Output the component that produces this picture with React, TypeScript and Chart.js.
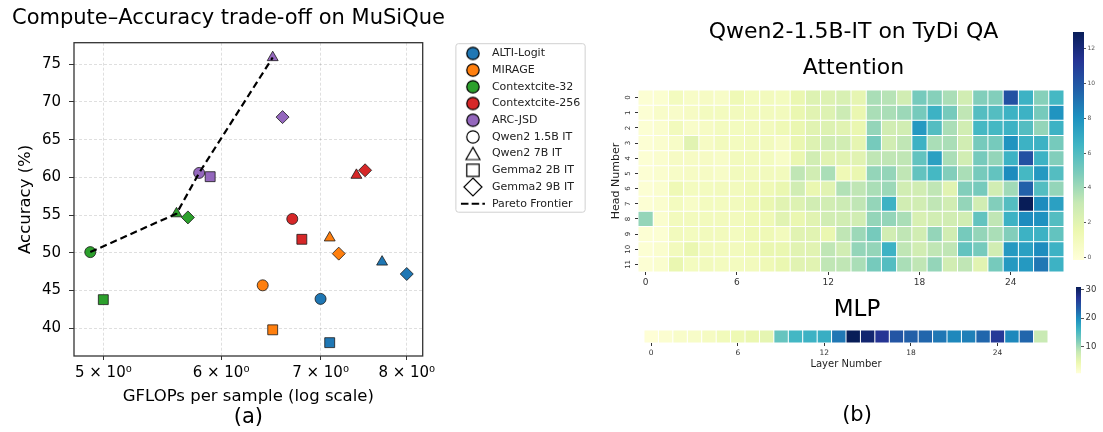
import React, { useEffect, useRef } from 'react';
import { Chart, registerables } from 'chart.js';

Chart.register(...registerables);
Chart.defaults.font.family = "'DejaVu Sans', sans-serif";
Chart.defaults.color = '#000';

// ---------------- (a) Compute–Accuracy scatter ----------------
const METHODS = ['ALTI-Logit', 'MIRAGE', 'Contextcite-32', 'Contextcite-256', 'ARC-JSD'];
const METHOD_COLORS = ['#1f77b4', '#ff7f0e', '#2ca02c', '#d62728', '#9467bd'];
const MODELS = ['Qwen2 1.5B IT', 'Qwen2 7B IT', 'Gemma2 2B IT', 'Gemma2 9B IT'];
const MODEL_POINT_STYLES = ['circle', 'triangle', 'rect', 'rectRot'];
const MODEL_MARKER_KINDS = ['circle', 'triangle', 'rect', 'diamond'];

// values in MODELS order
const ALTI_GFLOPS = [7.0, 7.7, 7.1, 8.0];
const ALTI_ACC = [43.9, 48.8, 38.1, 47.2];
const MIRAGE_GFLOPS = [6.4, 7.1, 6.5, 7.2];
const MIRAGE_ACC = [45.7, 52.0, 39.8, 49.9];
const CC32_GFLOPS = [4.9, 5.6, 5.0, 5.7];
const CC32_ACC = [50.1, 55.2, 43.8, 54.7];
const CC256_GFLOPS = [6.7, 7.4, 6.8, 7.5];
const CC256_ACC = [54.5, 60.3, 51.8, 60.95];
const ARC_GFLOPS = [5.8, 6.5, 5.9, 6.6];
const ARC_ACC = [60.6, 75.9, 60.1, 68.0];

const METHOD_GFLOPS = [ALTI_GFLOPS, MIRAGE_GFLOPS, CC32_GFLOPS, CC256_GFLOPS, ARC_GFLOPS];
const METHOD_ACC = [ALTI_ACC, MIRAGE_ACC, CC32_ACC, CC256_ACC, ARC_ACC];

const PARETO_GFLOPS = [4.9, 5.6, 5.8, 6.5];
const PARETO_ACC = [50.1, 55.2, 60.6, 75.9];

const X_TICKS = [5, 6, 7, 8];
const Y_TICKS = [40, 45, 50, 55, 60, 65, 70, 75];

// ---------------- (b) Heatmaps ----------------
const LAYERS = Array.from({ length: 28 }, (_, i) => String(i));
const LAYER_TICKS = [0, 6, 12, 18, 24];

const ATT_HEAD_0 = [0.1, 0.2, 0.9, 0.6, 0.7, 0.6, 1.3, 0.9, 1.0, 0.9, 1.6, 2.2, 2.2, 2.4, 1.8, 3.8, 3.5, 2.7, 5.0, 4.6, 3.8, 2.7, 4.7, 4.7, 10.2, 6.6, 4.6, 6.3];
const ATT_HEAD_1 = [0.1, 0.5, 0.5, 0.7, 0.9, 0.9, 1.0, 1.0, 1.0, 1.0, 1.6, 2.0, 2.2, 2.9, 1.6, 3.8, 3.8, 4.1, 5.0, 6.6, 5.0, 3.3, 5.9, 5.9, 6.6, 6.6, 5.0, 7.9];
const ATT_HEAD_2 = [0.1, 0.3, 1.0, 0.5, 0.7, 0.9, 0.9, 1.0, 1.0, 1.3, 1.6, 2.0, 2.2, 2.0, 1.6, 4.3, 2.7, 2.7, 7.7, 5.9, 3.8, 2.7, 6.3, 6.3, 6.6, 5.9, 4.3, 6.6];
const ATT_HEAD_3 = [0.1, 0.3, 0.6, 2.0, 0.7, 1.0, 0.9, 1.0, 1.0, 0.7, 1.6, 2.2, 2.7, 2.7, 1.8, 5.0, 2.7, 3.3, 6.6, 3.8, 3.8, 2.7, 5.0, 5.0, 7.9, 6.6, 6.6, 5.0];
const ATT_HEAD_4 = [0.1, 0.3, 0.7, 0.7, 0.7, 0.6, 1.0, 1.0, 0.9, 0.6, 1.6, 2.7, 2.0, 2.0, 2.0, 3.3, 3.3, 3.3, 5.5, 7.4, 3.8, 2.7, 5.0, 4.3, 6.6, 10.2, 6.6, 4.7];
const ATT_HEAD_5 = [0.1, 0.3, 0.6, 0.7, 0.7, 0.6, 1.0, 1.0, 1.0, 1.0, 3.3, 2.7, 3.8, 1.3, 1.6, 4.3, 4.3, 3.3, 5.5, 6.3, 4.7, 3.8, 5.0, 5.5, 8.2, 6.3, 7.7, 5.9];
const ATT_HEAD_6 = [0.1, 0.3, 1.3, 0.9, 0.9, 1.0, 1.0, 1.3, 1.3, 1.6, 2.7, 1.6, 2.0, 3.6, 3.3, 3.8, 4.1, 2.7, 2.7, 3.3, 2.0, 4.7, 5.0, 2.7, 4.0, 9.6, 5.9, 4.3];
const ATT_HEAD_7 = [0.1, 0.3, 0.9, 0.6, 0.9, 0.9, 1.0, 1.3, 1.6, 2.0, 2.2, 2.7, 2.7, 2.9, 3.3, 4.3, 6.6, 2.7, 2.7, 3.3, 2.7, 4.3, 2.7, 4.7, 5.9, 13.0, 8.2, 7.4];
const ATT_HEAD_8 = [4.3, 0.3, 1.0, 1.0, 1.0, 1.0, 1.0, 1.3, 1.3, 2.0, 1.6, 2.0, 2.7, 2.7, 2.7, 4.3, 4.3, 3.8, 2.4, 2.7, 2.7, 2.7, 5.5, 3.3, 6.6, 8.2, 8.0, 5.9];
const ATT_HEAD_9 = [0.1, 0.1, 1.0, 0.9, 1.0, 1.0, 0.9, 1.3, 1.3, 1.0, 2.0, 2.0, 1.6, 3.3, 4.1, 5.0, 2.7, 3.3, 2.7, 4.3, 2.7, 5.0, 4.3, 3.8, 4.7, 6.6, 6.6, 5.5];
const ATT_HEAD_10 = [0.1, 0.3, 1.0, 1.6, 1.0, 1.0, 1.0, 1.3, 1.6, 1.6, 2.0, 2.0, 3.3, 2.7, 4.3, 4.3, 6.6, 3.3, 2.7, 3.3, 3.3, 5.5, 5.0, 2.7, 7.7, 7.4, 8.2, 6.6];
const ATT_HEAD_11 = [0.1, 0.3, 1.6, 0.9, 1.0, 0.9, 0.9, 1.0, 1.3, 1.6, 2.0, 2.0, 3.3, 3.3, 3.8, 5.0, 5.9, 3.8, 3.3, 4.3, 2.7, 3.3, 2.0, 5.0, 7.7, 7.7, 8.9, 6.6];
const ATTENTION = [ATT_HEAD_0, ATT_HEAD_1, ATT_HEAD_2, ATT_HEAD_3, ATT_HEAD_4, ATT_HEAD_5, ATT_HEAD_6, ATT_HEAD_7, ATT_HEAD_8, ATT_HEAD_9, ATT_HEAD_10, ATT_HEAD_11];

const MLP = [0.8, 1.4, 2.0, 2.1, 2.7, 3.4, 4.0, 4.5, 5.1, 13.5, 15.6, 16.2, 16.6, 21.5, 31.0, 29.5, 27.2, 24.2, 23.3, 22.8, 21.5, 20.2, 20.8, 22.8, 26.7, 20.2, 22.8, 7.9];

const ATT_VMIN = -0.15;
const ATT_VMAX = 12.97;
const ATT_CBAR_TICKS = [0, 2, 4, 6, 8, 10, 12];
const MLP_VMIN = 0.5;
const MLP_VMAX = 31;
const MLP_CBAR_TICKS = [10, 20, 30];

const YLGNBU = ['#ffffd9', '#edf8b1', '#c7e9b4', '#7fcdbb', '#41b6c4', '#1d91c0', '#225ea8', '#253494', '#081d58'];

function hexRgb(h: string) {
  return [parseInt(h.slice(1, 3), 16), parseInt(h.slice(3, 5), 16), parseInt(h.slice(5, 7), 16)];
}
function cmap(v: number, vmin: number, vmax: number) {
  let t = (v - vmin) / (vmax - vmin);
  t = Math.max(0, Math.min(1, t));
  const p = t * 8;
  const i = Math.min(7, Math.floor(p));
  const f = p - i;
  const a = hexRgb(YLGNBU[i]);
  const b = hexRgb(YLGNBU[i + 1]);
  const c = a.map((x, k) => Math.round(x + (b[k] - x) * f));
  return `rgb(${c[0]},${c[1]},${c[2]})`;
}

function makeMarker(kind: string, fill: string) {
  const c = document.createElement('canvas');
  if (kind === 'dash') {
    c.width = 26;
    c.height = 6;
    const g2 = c.getContext('2d') as CanvasRenderingContext2D;
    g2.strokeStyle = '#000';
    g2.lineWidth = 2;
    g2.setLineDash([7.5, 3.2]);
    g2.beginPath();
    g2.moveTo(1, 3);
    g2.lineTo(25, 3);
    g2.stroke();
    return c;
  }
  c.width = 22;
  c.height = 22;
  const h = c.getContext('2d') as CanvasRenderingContext2D;
  const cx = 11, cy = 11;
  h.fillStyle = fill;
  h.strokeStyle = '#000';
  h.lineWidth = 1.2;
  h.beginPath();
  if (kind === 'circle') h.arc(cx, cy, 6.2, 0, Math.PI * 2);
  else if (kind === 'triangle') {
    h.moveTo(cx, cy - 6.4);
    h.lineTo(cx + 7, cy + 6);
    h.lineTo(cx - 7, cy + 6);
    h.closePath();
  } else if (kind === 'rect') h.rect(cx - 6.2, cy - 6.2, 12.4, 12.4);
  else {
    h.moveTo(cx, cy - 9);
    h.lineTo(cx + 9, cy);
    h.lineTo(cx, cy + 9);
    h.lineTo(cx - 9, cy);
    h.closePath();
  }
  h.fill();
  h.stroke();
  return c;
}

const scatterFrame = {
  id: 'scatterFrame',
  afterLayout(chart: any) {
    const lg = chart.legend;
    if (!lg) return;
    const a = chart.chartArea;
    lg.left = a.right + 31;
    lg.top = a.top - 0.5;
    lg.right = chart.width - 2;
    lg.bottom = a.top + 220;
    lg.width = lg.right - lg.left;
    lg.height = lg.bottom - lg.top;
  },
  afterDraw(chart: any) {
    const { ctx, chartArea: a } = chart;
    ctx.save();
    ctx.strokeStyle = '#333';
    ctx.lineWidth = 1.3;
    ctx.strokeRect(a.left, a.top, a.right - a.left, a.bottom - a.top);
    const lg = chart.legend;
    if (lg && lg.legendHitBoxes && lg.legendHitBoxes.length) {
      const hb = lg.legendHitBoxes;
      const left = lg.left + 2.2;
      const top = lg.top + 1.5;
      let right = 0;
      hb.forEach((b: any) => { right = Math.max(right, b.left + b.width); });
      const last = hb[hb.length - 1];
      const bottom = last.top + last.height + 3;
      right += 5;
      ctx.strokeStyle = '#d0d0d0';
      ctx.lineWidth = 1;
      const r = 2.5;
      ctx.beginPath();
      ctx.moveTo(left + r, top);
      ctx.lineTo(right - r, top);
      ctx.arcTo(right, top, right, top + r, r);
      ctx.lineTo(right, bottom - r);
      ctx.arcTo(right, bottom, right - r, bottom, r);
      ctx.lineTo(left + r, bottom);
      ctx.arcTo(left, bottom, left, bottom - r, r);
      ctx.lineTo(left, top + r);
      ctx.arcTo(left, top, left + r, top, r);
      ctx.stroke();
    }
    ctx.restore();
  },
};

function scatterConfig(): any {
  const legendItems = [
    ...METHODS.map((m, k) => ({
      text: m, pointStyle: makeMarker('circle', METHOD_COLORS[k]), fillStyle: METHOD_COLORS[k],
      strokeStyle: '#000', lineWidth: 0, hidden: false, fontColor: '#222', textAlign: 'left',
    })),
    ...MODELS.map((m, k) => ({
      text: m, pointStyle: makeMarker(MODEL_MARKER_KINDS[k], '#ffffff'), fillStyle: '#fff',
      strokeStyle: '#000', lineWidth: 0, hidden: false, fontColor: '#222', textAlign: 'left',
    })),
    {
      text: 'Pareto Frontier', pointStyle: makeMarker('dash', '#000'), fillStyle: '#000',
      strokeStyle: '#000', lineWidth: 0, hidden: false, fontColor: '#222', textAlign: 'left',
    },
  ];
  const gridCommon = { color: 'rgba(0,0,0,0.16)', lineWidth: 0.8, tickColor: '#333', tickWidth: 1 };
  return {
    type: 'scatter',
    data: {
      datasets: [
        {
          label: 'Pareto Frontier',
          data: PARETO_GFLOPS.map((x, i) => ({ x, y: PARETO_ACC[i] })),
          showLine: true, borderColor: '#000', borderWidth: 2.2, borderDash: [7, 4],
          pointRadius: 0, fill: false,
        },
        ...METHODS.map((m, k) => ({
          label: m,
          data: METHOD_GFLOPS[k].map((x, i) => ({ x, y: METHOD_ACC[k][i] })),
          pointStyle: MODEL_POINT_STYLES,
          pointRadius: [5.5, 6.3, 7, 6.5],
          backgroundColor: METHOD_COLORS[k],
          borderColor: '#1a1a1a',
          borderWidth: 0.8,
          showLine: false,
        })),
      ],
    },
    options: {
      responsive: false, animation: false, devicePixelRatio: 1, events: [],
      layout: { padding: { left: 12, right: 6, top: 0, bottom: 0 } },
      scales: {
        x: {
          type: 'logarithmic', min: 4.778, max: 8.2,
          afterBuildTicks: (s: any) => { s.ticks = X_TICKS.map((v) => ({ value: v })); },
          afterFit: (s: any) => { s.height = 49.4; },
          ticks: { callback: (v: any) => `${v} × 10⁰`, font: { size: 15 }, color: '#000', padding: 4, maxRotation: 0, autoSkip: false },
          grid: { ...gridCommon, tickLength: 4 },
          border: { display: false, dash: [3, 2] },
          title: { display: true, text: 'GFLOPs per sample (log scale)', font: { size: 16.5, lineHeight: 1 }, color: '#000', padding: { top: 0, bottom: 0 } },
        },
        y: {
          type: 'linear', min: 36.33, max: 77.86,
          afterBuildTicks: (s: any) => { s.ticks = Y_TICKS.map((v) => ({ value: v })); },
          afterFit: (s: any) => { s.width = 62; },
          ticks: { font: { size: 15 }, color: '#000', padding: 8 },
          grid: { ...gridCommon, tickLength: 5 },
          border: { display: false, dash: [3, 2] },
          title: { display: true, text: 'Accuracy (%)', font: { size: 16.5, lineHeight: 1 }, color: '#000', padding: { top: 5.5, bottom: 0 } },
        },
        legendSpace: {
          type: 'linear', position: 'right', display: true,
          ticks: { display: false }, grid: { display: false }, border: { display: false },
          afterFit: (s: any) => { s.width = 171.3; },
        },
      },
      plugins: {
        title: {
          display: true, text: 'Compute–Accuracy trade-off on MuSiQue', align: 'start',
          font: { size: 21, weight: 'normal', lineHeight: 1.2 }, color: '#000', padding: { top: 6.1, bottom: 11.4 },
        },
        subtitle: {
          display: true, text: '(a)', position: 'bottom', fullSize: false,
          font: { size: 21, weight: 'normal', lineHeight: 1.2 }, color: '#000', padding: { top: 0, bottom: 1.4 },
        },
        legend: {
          display: true, position: 'chartArea', align: 'start', fullSize: false,
          labels: {
            usePointStyle: true, pointStyleWidth: 27, boxHeight: 11, textAlign: 'left',
            font: { size: 11 }, color: '#222', padding: 5.7,
            generateLabels: () => legendItems,
          },
        },
        tooltip: { enabled: false },
      },
    },
    plugins: [scatterFrame],
  };
}

function heatConfig(): any {
  return {
    type: 'bar',
    data: {
      labels: LAYERS,
      datasets: ATTENTION.map((row, r) => ({
        label: `Head ${r}`,
        data: row.map(() => 1),
        backgroundColor: row.map((v) => cmap(v, ATT_VMIN, ATT_VMAX)),
        borderColor: '#ffffff', borderWidth: 0.5, borderSkipped: false, inflateAmount: 0,
        barPercentage: 1, categoryPercentage: 1, yAxisID: 'y',
      })),
    },
    options: {
      responsive: false, animation: false, devicePixelRatio: 1, events: [],
      layout: { padding: { left: 4, right: 0, top: 0, bottom: 0 } },
      scales: {
        x: {
          stacked: true,
          grid: {
            display: true, drawOnChartArea: false, offset: false, tickLength: 3, color: 'rgba(0,0,0,0)',
            tickColor: (c: any) => (LAYER_TICKS.includes(c.index) ? '#333' : 'rgba(0,0,0,0)'),
          },
          border: { display: false },
          ticks: {
            autoSkip: false, maxRotation: 0, font: { size: 9 }, color: '#333', padding: 2.6,
            callback: (_v: any, i: number) => (LAYER_TICKS.includes(i) ? LAYERS[i] : ''),
          },
          afterFit: (s: any) => { s.height = 18; },
        },
        y: {
          type: 'linear', stacked: true, reverse: true, min: 0, max: 12,
          afterBuildTicks: (s: any) => { s.ticks = ATTENTION.map((_r, r) => ({ value: r + 0.5 })); },
          ticks: {
            callback: (v: any) => String(Math.floor(v)), font: { size: 7 }, color: '#333',
            minRotation: 90, maxRotation: 90, crossAlign: 'center', padding: 2, autoSkip: false,
          },
          grid: { display: true, drawOnChartArea: false, tickLength: 3, tickColor: '#333', color: 'rgba(0,0,0,0)' },
          border: { display: false },
          title: { display: true, text: 'Head Number', font: { size: 11, lineHeight: 1 }, color: '#222', padding: { top: 6.5, bottom: 0 } },
          afterFit: (s: any) => { s.width = 34; },
        },
        yR: {
          type: 'linear', position: 'right', display: true,
          ticks: { display: false }, grid: { display: false }, border: { display: false },
          afterFit: (s: any) => { s.width = 39; },
        },
      },
      plugins: {
        title: {
          display: true, text: ['Qwen2-1.5B-IT on TyDi QA', 'Attention'],
          font: { size: 22, weight: 'normal', lineHeight: 1.636 }, color: '#000', padding: { top: 14, bottom: 4 },
        },
        legend: { display: false },
        tooltip: { enabled: false },
      },
    },
  };
}

function mlpConfig(): any {
  return {
    type: 'bar',
    data: {
      labels: LAYERS,
      datasets: [{
        label: 'MLP',
        data: MLP.map(() => 1),
        backgroundColor: MLP.map((v) => cmap(v, MLP_VMIN, MLP_VMAX)),
        borderColor: '#ffffff', borderWidth: 0.5, borderSkipped: false, inflateAmount: 0,
        barPercentage: 1, categoryPercentage: 1, yAxisID: 'y',
      }],
    },
    options: {
      responsive: false, animation: false, devicePixelRatio: 1, events: [],
      layout: { padding: { left: 44, right: 33, top: 0, bottom: 0 } },
      scales: {
        x: {
          grid: {
            display: true, drawOnChartArea: false, offset: false, tickLength: 3, color: 'rgba(0,0,0,0)',
            tickColor: (c: any) => (LAYER_TICKS.includes(c.index) ? '#333' : 'rgba(0,0,0,0)'),
          },
          border: { display: false },
          ticks: {
            autoSkip: false, maxRotation: 0, font: { size: 7.5 }, color: '#333', padding: 2.5,
            callback: (_v: any, i: number) => (LAYER_TICKS.includes(i) ? LAYERS[i] : ''),
          },
          title: { display: true, text: 'Layer Number', font: { size: 10, lineHeight: 1 }, color: '#222', padding: { top: 0, bottom: 34.4 } },
          afterFit: (s: any) => { s.height = 60.4; },
        },
        y: { type: 'linear', display: false, min: 0, max: 1 },
        yR: {
          type: 'linear', position: 'right', display: true,
          ticks: { display: false }, grid: { display: false }, border: { display: false },
          afterFit: (s: any) => { s.width = 22; },
        },
      },
      plugins: {
        title: {
          display: true, text: 'MLP', font: { size: 23, weight: 'normal', lineHeight: 1.2 },
          color: '#000', padding: { top: 16.7, bottom: 5.7 },
        },
        subtitle: {
          display: true, text: '(b)', position: 'bottom',
          font: { size: 21, weight: 'normal', lineHeight: 1.2 }, color: '#000', padding: { top: 0, bottom: 3.4 },
        },
        legend: { display: false },
        tooltip: { enabled: false },
      },
    },
  };
}

function colorbarConfig(vmin: number, vmax: number, ticks: number[], fontSize: number, tickLen: number, axisWidth: number, padding: any, color: string): any {
  return {
    type: 'bar',
    data: {
      labels: [''],
      datasets: [{
        data: [[vmin, vmax]],
        backgroundColor: (c: any) => {
          const a = c.chart.chartArea;
          if (!a) return YLGNBU[0];
          const g = c.chart.ctx.createLinearGradient(0, a.bottom, 0, a.top);
          YLGNBU.forEach((col, i) => g.addColorStop(i / 8, col));
          return g;
        },
        borderWidth: 0, inflateAmount: 0, barPercentage: 1, categoryPercentage: 1,
      }],
    },
    options: {
      responsive: false, animation: false, devicePixelRatio: 1, events: [],
      layout: { padding },
      scales: {
        x: { display: false },
        y: {
          type: 'linear', position: 'right', min: vmin, max: vmax,
          afterBuildTicks: (s: any) => { s.ticks = ticks.map((v) => ({ value: v })); },
          ticks: { font: { size: fontSize }, color, padding: 1.5 },
          grid: { display: true, drawOnChartArea: false, tickLength: tickLen, tickColor: '#555', color: 'rgba(0,0,0,0)' },
          border: { display: false },
          afterFit: (s: any) => { s.width = axisWidth; },
        },
      },
      plugins: { legend: { display: false }, tooltip: { enabled: false } },
    },
  };
}

export default function App() {
  const scatterRef = useRef<HTMLCanvasElement>(null);
  const heatRef = useRef<HTMLCanvasElement>(null);
  const mlpRef = useRef<HTMLCanvasElement>(null);
  const cbARef = useRef<HTMLCanvasElement>(null);
  const cbBRef = useRef<HTMLCanvasElement>(null);

  useEffect(() => {
    const charts: Chart[] = [];
    charts.push(new Chart(scatterRef.current as HTMLCanvasElement, scatterConfig()));
    charts.push(new Chart(heatRef.current as HTMLCanvasElement, heatConfig()));
    charts.push(new Chart(mlpRef.current as HTMLCanvasElement, mlpConfig()));
    charts.push(new Chart(cbARef.current as HTMLCanvasElement,
      colorbarConfig(ATT_VMIN, ATT_VMAX, ATT_CBAR_TICKS, 6, 2, 19, { left: 13, right: 0, top: 12, bottom: 4 }, '#555')));
    charts.push(new Chart(cbBRef.current as HTMLCanvasElement,
      colorbarConfig(MLP_VMIN, MLP_VMAX, MLP_CBAR_TICKS, 8.5, 3, 22, { left: 12, right: 0, top: 7, bottom: 5 }, '#333')));
    return () => charts.forEach((c) => c.destroy());
  }, []);

  const abs = (left: number, top: number, w: number, h: number): React.CSSProperties => ({
    position: 'absolute', left, top, width: w, height: h,
  });

  return (
    <div style={{ position: 'absolute', left: 0, top: 0, width: 1103, height: 432, background: '#fff', overflow: 'hidden' }}>
      <canvas ref={scatterRef} width={600} height={432} style={abs(0, 0, 600, 432)} />
      <canvas ref={heatRef} width={503} height={290} style={abs(600, 0, 503, 290)} />
      <canvas ref={mlpRef} width={503} height={152} style={abs(600, 280, 503, 152)} />
      <canvas ref={cbARef} width={43} height={245} style={abs(1060, 20, 43, 245)} />
      <canvas ref={cbBRef} width={39} height={100} style={abs(1064, 280, 39, 100)} />
    </div>
  );
}
